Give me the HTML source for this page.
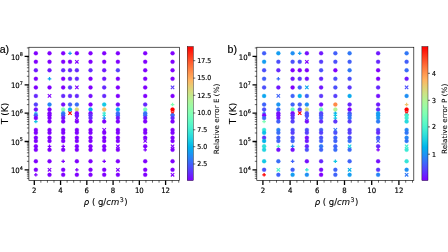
<!DOCTYPE html>
<html><head><meta charset="utf-8"><title>Relative error scatter plots</title>
<style>html,body{margin:0;padding:0;background:#fff}svg{display:block}text{stroke:#000;stroke-width:.18px}.l{stroke-width:.1px}.c{stroke-width:.04px}</style></head>
<body>
<svg width="448" height="252" viewBox="0 0 448 252" font-family="'DejaVu Sans', 'Liberation Sans', sans-serif" fill="#000">
<rect width="448" height="252" fill="#fff"/>
<g fill="none" stroke-width="1.25"><path d="M68.23 53.3H71.83M70.03 51.5V55.1" stroke="#149df1"/><path d="M75.16 60.1L78.56 63.5M75.16 63.5L78.56 60.1" stroke="#8000ff" stroke-width="1.15"/><path d="M47.72 78.8H51.32M49.52 77V80.6" stroke="#0da6ef"/><path d="M75.16 85.7L78.56 89.1M75.16 89.1L78.56 85.7" stroke="#8000ff" stroke-width="1.15"/><path d="M170.85 85.7L174.25 89.1M170.85 89.1L174.25 85.7" stroke="#5c38fd" stroke-width="1.15"/><path d="M47.82 94.2L51.22 97.6M47.82 97.6L51.22 94.2" stroke="#8000ff" stroke-width="1.15"/><path d="M170.75 104.55H174.35M172.55 102.75V106.35" stroke="#80ffb4"/><path d="M34.05 113.15H37.65M35.85 111.35V114.95" stroke="#21d5e1"/><path d="M68.33 111.45L71.73 114.85M68.33 114.85L71.73 111.45" stroke="#ff0000" stroke-width="1.15"/><path d="M102.4 113.15H106M104.2 111.35V114.95" stroke="#43eed2"/><path d="M170.85 111.45L174.25 114.85M170.85 114.85L174.25 111.45" stroke="#ff0000" stroke-width="1.15"/><path d="M102.4 115.3H106M104.2 113.5V117.1" stroke="#35e5d8"/><path d="M75.16 116.4L78.56 119.8M75.16 119.8L78.56 116.4" stroke="#8000ff" stroke-width="1.15"/><path d="M102.4 118.1H106M104.2 116.3V119.9" stroke="#1f8ff4"/><path d="M34.05 121.55H37.65M35.85 119.75V123.35" stroke="#13c8e6"/><path d="M102.5 128.2L105.9 131.6M102.5 131.6L105.9 128.2" stroke="#8000ff" stroke-width="1.15"/><path d="M143.51 139.3L146.91 142.7M143.51 142.7L146.91 139.3" stroke="#8000ff" stroke-width="1.15"/><path d="M47.72 146.3H51.32M49.52 144.5V148.1" stroke="#8000ff"/><path d="M61.39 146.3H64.99M63.19 144.5V148.1" stroke="#8000ff"/><path d="M116.17 144.6L119.57 148M116.17 148L119.57 144.6" stroke="#8000ff" stroke-width="1.15"/><path d="M170.85 144.6L174.25 148M170.85 148L174.25 144.6" stroke="#8000ff" stroke-width="1.15"/><path d="M143.41 149.8H147.01M145.21 148V151.6" stroke="#8000ff"/><path d="M61.39 161.3H64.99M63.19 159.5V163.1" stroke="#8000ff"/><path d="M102.4 161.3H106M104.2 159.5V163.1" stroke="#8000ff"/><path d="M47.82 168.1L51.22 171.5M47.82 171.5L51.22 168.1" stroke="#8000ff" stroke-width="1.15"/><path d="M75.06 169.8H78.66M76.86 168V171.6" stroke="#8000ff"/><path d="M116.17 168.1L119.57 171.5M116.17 171.5L119.57 168.1" stroke="#8000ff" stroke-width="1.15"/><path d="M34.05 174.8H37.65M35.85 173V176.6" stroke="#8000ff"/><path d="M170.85 173.1L174.25 176.5M170.85 176.5L174.25 173.1" stroke="#8000ff" stroke-width="1.15"/></g>
<g stroke-width="0.7" stroke-opacity="0.4"><circle cx="35.85" cy="53.3" r="2" fill="#8000ff" stroke="#8000ff"/><circle cx="49.52" cy="53.3" r="2" fill="#8000ff" stroke="#8000ff"/><circle cx="63.19" cy="53.3" r="2" fill="#8000ff" stroke="#8000ff"/><circle cx="76.86" cy="53.3" r="2" fill="#8000ff" stroke="#8000ff"/><circle cx="90.53" cy="53.3" r="2" fill="#8000ff" stroke="#8000ff"/><circle cx="104.2" cy="53.3" r="2" fill="#8000ff" stroke="#8000ff"/><circle cx="117.87" cy="53.3" r="2" fill="#8000ff" stroke="#8000ff"/><circle cx="145.21" cy="53.3" r="2" fill="#8000ff" stroke="#8000ff"/><circle cx="172.55" cy="53.3" r="2" fill="#8000ff" stroke="#8000ff"/><circle cx="35.85" cy="61.8" r="2" fill="#8000ff" stroke="#8000ff"/><circle cx="49.52" cy="61.8" r="2" fill="#8000ff" stroke="#8000ff"/><circle cx="63.19" cy="61.8" r="2" fill="#8000ff" stroke="#8000ff"/><circle cx="70.03" cy="61.8" r="2" fill="#8000ff" stroke="#8000ff"/><circle cx="90.53" cy="61.8" r="2" fill="#8000ff" stroke="#8000ff"/><circle cx="104.2" cy="61.8" r="2" fill="#8000ff" stroke="#8000ff"/><circle cx="117.87" cy="61.8" r="2" fill="#8000ff" stroke="#8000ff"/><circle cx="145.21" cy="61.8" r="2" fill="#8000ff" stroke="#8000ff"/><circle cx="172.55" cy="61.8" r="2" fill="#8000ff" stroke="#8000ff"/><circle cx="35.85" cy="70.3" r="2" fill="#7018ff" stroke="#7018ff"/><circle cx="49.52" cy="70.3" r="2" fill="#7018ff" stroke="#7018ff"/><circle cx="63.19" cy="70.3" r="2" fill="#6628fe" stroke="#6628fe"/><circle cx="70.03" cy="70.3" r="2" fill="#6628fe" stroke="#6628fe"/><circle cx="76.86" cy="70.3" r="2" fill="#6628fe" stroke="#6628fe"/><circle cx="90.53" cy="70.3" r="2" fill="#6628fe" stroke="#6628fe"/><circle cx="104.2" cy="70.3" r="2" fill="#7018ff" stroke="#7018ff"/><circle cx="117.87" cy="70.3" r="2" fill="#573ffd" stroke="#573ffd"/><circle cx="145.21" cy="70.3" r="2" fill="#8000ff" stroke="#8000ff"/><circle cx="172.55" cy="70.3" r="2" fill="#8000ff" stroke="#8000ff"/><circle cx="35.85" cy="78.8" r="2" fill="#8000ff" stroke="#8000ff"/><circle cx="63.19" cy="78.8" r="2" fill="#8000ff" stroke="#8000ff"/><circle cx="70.03" cy="78.8" r="2" fill="#6628fe" stroke="#6628fe"/><circle cx="76.86" cy="78.8" r="2" fill="#6628fe" stroke="#6628fe"/><circle cx="90.53" cy="78.8" r="2" fill="#8000ff" stroke="#8000ff"/><circle cx="104.2" cy="78.8" r="2" fill="#7018ff" stroke="#7018ff"/><circle cx="117.87" cy="78.8" r="2" fill="#8000ff" stroke="#8000ff"/><circle cx="145.21" cy="78.8" r="2" fill="#8000ff" stroke="#8000ff"/><circle cx="172.55" cy="78.8" r="2" fill="#8000ff" stroke="#8000ff"/><circle cx="35.85" cy="87.4" r="2" fill="#8000ff" stroke="#8000ff"/><circle cx="49.52" cy="87.4" r="2" fill="#8000ff" stroke="#8000ff"/><circle cx="63.19" cy="87.4" r="2" fill="#8000ff" stroke="#8000ff"/><circle cx="70.03" cy="87.4" r="2" fill="#5c38fd" stroke="#5c38fd"/><circle cx="90.53" cy="87.4" r="2" fill="#8000ff" stroke="#8000ff"/><circle cx="104.2" cy="87.4" r="2" fill="#6628fe" stroke="#6628fe"/><circle cx="117.87" cy="87.4" r="2" fill="#8000ff" stroke="#8000ff"/><circle cx="145.21" cy="87.4" r="2" fill="#8000ff" stroke="#8000ff"/><circle cx="35.85" cy="95.9" r="2" fill="#6628fe" stroke="#6628fe"/><circle cx="63.19" cy="95.9" r="2" fill="#6628fe" stroke="#6628fe"/><circle cx="70.03" cy="95.9" r="2" fill="#6628fe" stroke="#6628fe"/><circle cx="76.86" cy="95.9" r="2" fill="#6628fe" stroke="#6628fe"/><circle cx="90.53" cy="95.9" r="2" fill="#7510ff" stroke="#7510ff"/><circle cx="104.2" cy="95.9" r="2" fill="#6628fe" stroke="#6628fe"/><circle cx="117.87" cy="95.9" r="2" fill="#8000ff" stroke="#8000ff"/><circle cx="145.21" cy="95.9" r="2" fill="#8000ff" stroke="#8000ff"/><circle cx="172.55" cy="95.9" r="2" fill="#8000ff" stroke="#8000ff"/><circle cx="35.85" cy="104.55" r="2" fill="#573ffd" stroke="#573ffd"/><circle cx="49.52" cy="104.55" r="2" fill="#2686f5" stroke="#2686f5"/><circle cx="63.19" cy="104.55" r="2" fill="#7510ff" stroke="#7510ff"/><circle cx="70.03" cy="104.55" r="2" fill="#425efa" stroke="#425efa"/><circle cx="76.86" cy="104.55" r="2" fill="#386df9" stroke="#386df9"/><circle cx="90.53" cy="104.55" r="2" fill="#8000ff" stroke="#8000ff"/><circle cx="104.2" cy="104.55" r="2" fill="#13c8e6" stroke="#13c8e6"/><circle cx="117.87" cy="104.55" r="2" fill="#7510ff" stroke="#7510ff"/><circle cx="145.21" cy="104.55" r="2" fill="#6628fe" stroke="#6628fe"/><circle cx="35.85" cy="109.55" r="2" fill="#7510ff" stroke="#7510ff"/><circle cx="49.52" cy="109.55" r="2" fill="#8000ff" stroke="#8000ff"/><circle cx="63.19" cy="109.55" r="2" fill="#80ffb4" stroke="#80ffb4"/><circle cx="70.03" cy="109.55" r="2" fill="#02b2ec" stroke="#02b2ec"/><circle cx="76.86" cy="109.55" r="2" fill="#dbd77b" stroke="#dbd77b"/><circle cx="90.53" cy="109.55" r="2" fill="#02b2ec" stroke="#02b2ec"/><circle cx="104.2" cy="109.55" r="2" fill="#f5bf69" stroke="#f5bf69"/><circle cx="117.87" cy="109.55" r="2" fill="#02b2ec" stroke="#02b2ec"/><circle cx="145.21" cy="109.55" r="2" fill="#75feba" stroke="#75feba"/><circle cx="172.55" cy="109.55" r="2" fill="#ff0000" stroke="#ff0000"/><circle cx="49.52" cy="113.15" r="2" fill="#8000ff" stroke="#8000ff"/><circle cx="63.19" cy="113.15" r="2" fill="#2686f5" stroke="#2686f5"/><circle cx="76.86" cy="113.15" r="2" fill="#8000ff" stroke="#8000ff"/><circle cx="90.53" cy="113.15" r="2" fill="#8000ff" stroke="#8000ff"/><circle cx="117.87" cy="113.15" r="2" fill="#386df9" stroke="#386df9"/><circle cx="145.21" cy="113.15" r="2" fill="#3077f7" stroke="#3077f7"/><circle cx="35.85" cy="115.3" r="2" fill="#425efa" stroke="#425efa"/><circle cx="49.52" cy="115.3" r="2" fill="#8000ff" stroke="#8000ff"/><circle cx="63.19" cy="115.3" r="2" fill="#425efa" stroke="#425efa"/><circle cx="76.86" cy="115.3" r="2" fill="#7018ff" stroke="#7018ff"/><circle cx="90.53" cy="115.3" r="2" fill="#6130fe" stroke="#6130fe"/><circle cx="117.87" cy="115.3" r="2" fill="#3f63fa" stroke="#3f63fa"/><circle cx="145.21" cy="115.3" r="2" fill="#386df9" stroke="#386df9"/><circle cx="172.55" cy="115.3" r="2" fill="#386df9" stroke="#386df9"/><circle cx="35.85" cy="118.1" r="2" fill="#8000ff" stroke="#8000ff"/><circle cx="49.52" cy="118.1" r="2" fill="#8000ff" stroke="#8000ff"/><circle cx="63.19" cy="118.1" r="2" fill="#7018ff" stroke="#7018ff"/><circle cx="90.53" cy="118.1" r="2" fill="#6130fe" stroke="#6130fe"/><circle cx="117.87" cy="118.1" r="2" fill="#7018ff" stroke="#7018ff"/><circle cx="145.21" cy="118.1" r="2" fill="#7018ff" stroke="#7018ff"/><circle cx="172.55" cy="118.1" r="2" fill="#6628fe" stroke="#6628fe"/><circle cx="49.52" cy="121.55" r="2" fill="#8000ff" stroke="#8000ff"/><circle cx="63.19" cy="121.55" r="2" fill="#8000ff" stroke="#8000ff"/><circle cx="76.86" cy="121.55" r="2" fill="#8000ff" stroke="#8000ff"/><circle cx="90.53" cy="121.55" r="2" fill="#8000ff" stroke="#8000ff"/><circle cx="104.2" cy="121.55" r="2" fill="#8000ff" stroke="#8000ff"/><circle cx="117.87" cy="121.55" r="2" fill="#8000ff" stroke="#8000ff"/><circle cx="145.21" cy="121.55" r="2" fill="#8000ff" stroke="#8000ff"/><circle cx="172.55" cy="121.55" r="2" fill="#8000ff" stroke="#8000ff"/><circle cx="35.85" cy="129.9" r="2" fill="#8000ff" stroke="#8000ff"/><circle cx="49.52" cy="129.9" r="2" fill="#8000ff" stroke="#8000ff"/><circle cx="63.19" cy="129.9" r="2" fill="#8000ff" stroke="#8000ff"/><circle cx="76.86" cy="129.9" r="2" fill="#8000ff" stroke="#8000ff"/><circle cx="90.53" cy="129.9" r="2" fill="#8000ff" stroke="#8000ff"/><circle cx="117.87" cy="129.9" r="2" fill="#8000ff" stroke="#8000ff"/><circle cx="145.21" cy="129.9" r="2" fill="#8000ff" stroke="#8000ff"/><circle cx="172.55" cy="129.9" r="2" fill="#8000ff" stroke="#8000ff"/><circle cx="35.85" cy="132.8" r="2" fill="#8000ff" stroke="#8000ff"/><circle cx="49.52" cy="132.8" r="2" fill="#8000ff" stroke="#8000ff"/><circle cx="63.19" cy="132.8" r="2" fill="#8000ff" stroke="#8000ff"/><circle cx="76.86" cy="132.8" r="2" fill="#8000ff" stroke="#8000ff"/><circle cx="90.53" cy="132.8" r="2" fill="#8000ff" stroke="#8000ff"/><circle cx="104.2" cy="132.8" r="2" fill="#8000ff" stroke="#8000ff"/><circle cx="117.87" cy="132.8" r="2" fill="#8000ff" stroke="#8000ff"/><circle cx="145.21" cy="132.8" r="2" fill="#8000ff" stroke="#8000ff"/><circle cx="172.55" cy="132.8" r="2" fill="#8000ff" stroke="#8000ff"/><circle cx="35.85" cy="137.7" r="2" fill="#8000ff" stroke="#8000ff"/><circle cx="49.52" cy="137.7" r="2" fill="#8000ff" stroke="#8000ff"/><circle cx="63.19" cy="137.7" r="2" fill="#8000ff" stroke="#8000ff"/><circle cx="76.86" cy="137.7" r="2" fill="#8000ff" stroke="#8000ff"/><circle cx="90.53" cy="137.7" r="2" fill="#8000ff" stroke="#8000ff"/><circle cx="104.2" cy="137.7" r="2" fill="#8000ff" stroke="#8000ff"/><circle cx="117.87" cy="137.7" r="2" fill="#8000ff" stroke="#8000ff"/><circle cx="145.21" cy="137.7" r="2" fill="#8000ff" stroke="#8000ff"/><circle cx="172.55" cy="137.7" r="2" fill="#8000ff" stroke="#8000ff"/><circle cx="35.85" cy="141" r="2" fill="#8000ff" stroke="#8000ff"/><circle cx="49.52" cy="141" r="2" fill="#8000ff" stroke="#8000ff"/><circle cx="63.19" cy="141" r="2" fill="#8000ff" stroke="#8000ff"/><circle cx="76.86" cy="141" r="2" fill="#8000ff" stroke="#8000ff"/><circle cx="90.53" cy="141" r="2" fill="#8000ff" stroke="#8000ff"/><circle cx="104.2" cy="141" r="2" fill="#8000ff" stroke="#8000ff"/><circle cx="117.87" cy="141" r="2" fill="#8000ff" stroke="#8000ff"/><circle cx="172.55" cy="141" r="2" fill="#8000ff" stroke="#8000ff"/><circle cx="35.85" cy="146.3" r="2" fill="#8000ff" stroke="#8000ff"/><circle cx="76.86" cy="146.3" r="2" fill="#8000ff" stroke="#8000ff"/><circle cx="90.53" cy="146.3" r="2" fill="#8000ff" stroke="#8000ff"/><circle cx="104.2" cy="146.3" r="2" fill="#8000ff" stroke="#8000ff"/><circle cx="145.21" cy="146.3" r="2" fill="#8000ff" stroke="#8000ff"/><circle cx="35.85" cy="149.8" r="2" fill="#8000ff" stroke="#8000ff"/><circle cx="49.52" cy="149.8" r="2" fill="#8000ff" stroke="#8000ff"/><circle cx="63.19" cy="149.8" r="2" fill="#8000ff" stroke="#8000ff"/><circle cx="76.86" cy="149.8" r="2" fill="#8000ff" stroke="#8000ff"/><circle cx="90.53" cy="149.8" r="2" fill="#8000ff" stroke="#8000ff"/><circle cx="104.2" cy="149.8" r="2" fill="#8000ff" stroke="#8000ff"/><circle cx="117.87" cy="149.8" r="2" fill="#8000ff" stroke="#8000ff"/><circle cx="172.55" cy="149.8" r="2" fill="#8000ff" stroke="#8000ff"/><circle cx="35.85" cy="161.3" r="2" fill="#8000ff" stroke="#8000ff"/><circle cx="49.52" cy="161.3" r="2" fill="#8000ff" stroke="#8000ff"/><circle cx="76.86" cy="161.3" r="2" fill="#8000ff" stroke="#8000ff"/><circle cx="90.53" cy="161.3" r="2" fill="#8000ff" stroke="#8000ff"/><circle cx="117.87" cy="161.3" r="2" fill="#8000ff" stroke="#8000ff"/><circle cx="145.21" cy="161.3" r="2" fill="#8000ff" stroke="#8000ff"/><circle cx="172.55" cy="161.3" r="2" fill="#8000ff" stroke="#8000ff"/><circle cx="35.85" cy="169.8" r="2" fill="#8000ff" stroke="#8000ff"/><circle cx="63.19" cy="169.8" r="2" fill="#8000ff" stroke="#8000ff"/><circle cx="90.53" cy="169.8" r="2" fill="#8000ff" stroke="#8000ff"/><circle cx="104.2" cy="169.8" r="2" fill="#8000ff" stroke="#8000ff"/><circle cx="145.21" cy="169.8" r="2" fill="#8000ff" stroke="#8000ff"/><circle cx="172.55" cy="169.8" r="2" fill="#8000ff" stroke="#8000ff"/><circle cx="49.52" cy="174.8" r="2" fill="#8000ff" stroke="#8000ff"/><circle cx="63.19" cy="174.8" r="2" fill="#8000ff" stroke="#8000ff"/><circle cx="76.86" cy="174.8" r="2" fill="#8000ff" stroke="#8000ff"/><circle cx="90.53" cy="174.8" r="2" fill="#8000ff" stroke="#8000ff"/><circle cx="104.2" cy="174.8" r="2" fill="#8000ff" stroke="#8000ff"/><circle cx="117.87" cy="174.8" r="2" fill="#8000ff" stroke="#8000ff"/><circle cx="145.21" cy="174.8" r="2" fill="#8000ff" stroke="#8000ff"/></g>

<rect x="28.9" y="47.25" width="150.7" height="133.15" fill="none" stroke="#000" stroke-width="0.65"/>
<path d="M34.3 180.4v4.6M60.56 180.4v4.6M86.82 180.4v4.6M113.08 180.4v4.6M139.34 180.4v4.6M165.6 180.4v4.6" stroke="#000" stroke-width="1.3" fill="none"/>
<path d="M40.86 180.4v2.3M47.43 180.4v2.3M53.99 180.4v2.3M67.12 180.4v2.3M73.69 180.4v2.3M80.25 180.4v2.3M93.38 180.4v2.3M99.95 180.4v2.3M106.52 180.4v2.3M119.64 180.4v2.3M126.21 180.4v2.3M132.78 180.4v2.3M145.91 180.4v2.3M152.47 180.4v2.3M159.04 180.4v2.3M172.17 180.4v2.3M178.73 180.4v2.3" stroke="#000" stroke-width="0.6" fill="none"/>
<text transform="translate(34.3 192.8) scale(0.94 1)" text-anchor="middle" font-size="7.4">2</text>
<text transform="translate(60.56 192.8) scale(0.94 1)" text-anchor="middle" font-size="7.4">4</text>
<text transform="translate(86.82 192.8) scale(0.94 1)" text-anchor="middle" font-size="7.4">6</text>
<text transform="translate(113.08 192.8) scale(0.94 1)" text-anchor="middle" font-size="7.4">8</text>
<text transform="translate(139.34 192.8) scale(0.94 1)" text-anchor="middle" font-size="7.4">10</text>
<text transform="translate(165.6 192.8) scale(0.94 1)" text-anchor="middle" font-size="7.4">12</text>
<text transform="translate(22.9 172.95) scale(0.94 1)" text-anchor="end" font-size="7.4">10<tspan dy="-3.2" font-size="5.18">4</tspan></text>
<text transform="translate(22.9 144.6) scale(0.94 1)" text-anchor="end" font-size="7.4">10<tspan dy="-3.2" font-size="5.18">5</tspan></text>
<text transform="translate(22.9 116.25) scale(0.94 1)" text-anchor="end" font-size="7.4">10<tspan dy="-3.2" font-size="5.18">6</tspan></text>
<text transform="translate(22.9 87.9) scale(0.94 1)" text-anchor="end" font-size="7.4">10<tspan dy="-3.2" font-size="5.18">7</tspan></text>
<text transform="translate(22.9 59.55) scale(0.94 1)" text-anchor="end" font-size="7.4">10<tspan dy="-3.2" font-size="5.18">8</tspan></text>
<path d="M28.9 169.85h-4.3M28.9 141.5h-4.3M28.9 113.15h-4.3M28.9 84.8h-4.3M28.9 56.45h-4.3" stroke="#000" stroke-width="1.3" fill="none"/>
<path d="M28.9 178.38h-2M28.9 176.14h-2M28.9 174.24h-2M28.9 172.6h-2M28.9 171.15h-2M28.9 161.32h-2M28.9 156.32h-2M28.9 152.78h-2M28.9 150.03h-2M28.9 147.79h-2M28.9 145.89h-2M28.9 144.25h-2M28.9 142.8h-2M28.9 132.97h-2M28.9 127.97h-2M28.9 124.43h-2M28.9 121.68h-2M28.9 119.44h-2M28.9 117.54h-2M28.9 115.9h-2M28.9 114.45h-2M28.9 104.62h-2M28.9 99.62h-2M28.9 96.08h-2M28.9 93.33h-2M28.9 91.09h-2M28.9 89.19h-2M28.9 87.55h-2M28.9 86.1h-2M28.9 76.27h-2M28.9 71.27h-2M28.9 67.73h-2M28.9 64.98h-2M28.9 62.74h-2M28.9 60.84h-2M28.9 59.2h-2M28.9 57.75h-2M28.9 47.92h-2" stroke="#000" stroke-width="0.6" fill="none"/>
<text class="l" x="105.7" y="204.6" text-anchor="middle" font-size="8.5"><tspan font-style="italic">ρ</tspan> ( g/<tspan font-style="italic">cm</tspan><tspan dy="-2.7" dx="0.5" font-size="6.29">3</tspan><tspan dy="2.7" dx="0.5">)</tspan></text>
<text class="l" transform="translate(7.6 113.5) rotate(-90)" text-anchor="middle" font-size="9.1">T (K)</text>

<defs><linearGradient id="ga" x1="0" y1="0" x2="0" y2="1"><stop offset="0" stop-color="#ff0000"/><stop offset="0.05" stop-color="#ff2814"/><stop offset="0.1" stop-color="#ff4f28"/><stop offset="0.15" stop-color="#ff743c"/><stop offset="0.2" stop-color="#ff964f"/><stop offset="0.25" stop-color="#ffb462"/><stop offset="0.3" stop-color="#e5ce74"/><stop offset="0.35" stop-color="#cce385"/><stop offset="0.4" stop-color="#b2f396"/><stop offset="0.45" stop-color="#99fca6"/><stop offset="0.5" stop-color="#80ffb4"/><stop offset="0.55" stop-color="#66fcc2"/><stop offset="0.6" stop-color="#4df3ce"/><stop offset="0.65" stop-color="#33e3d9"/><stop offset="0.7" stop-color="#1acee3"/><stop offset="0.75" stop-color="#00b4ec"/><stop offset="0.8" stop-color="#1a96f3"/><stop offset="0.85" stop-color="#3374f8"/><stop offset="0.9" stop-color="#4d4ffc"/><stop offset="0.95" stop-color="#6628fe"/><stop offset="1" stop-color="#8000ff"/></linearGradient></defs>
<rect x="187.2" y="46.55" width="6.1" height="134.05" fill="url(#ga)" stroke="#000" stroke-width="0.4"/>
<text transform="translate(197.3 63.05) scale(0.9 1)" font-size="6.9">17.5</text>
<text transform="translate(197.3 80.45) scale(0.9 1)" font-size="6.9">15.0</text>
<text transform="translate(197.3 97.65) scale(0.9 1)" font-size="6.9">12.5</text>
<text transform="translate(197.3 115.35) scale(0.9 1)" font-size="6.9">10.0</text>
<text transform="translate(197.3 132.15) scale(0.9 1)" font-size="6.9">7.5</text>
<text transform="translate(197.3 149.05) scale(0.9 1)" font-size="6.9">5.0</text>
<text transform="translate(197.3 166.35) scale(0.9 1)" font-size="6.9">2.5</text>
<path d="M193.3 60.7h2M193.3 78.1h2M193.3 95.3h2M193.3 113h2M193.3 129.8h2M193.3 146.7h2M193.3 164h2" stroke="#000" stroke-width="0.6" fill="none"/>
<text class="c" transform="translate(218.8 118.9) rotate(-90)" text-anchor="middle" font-size="7.22">Relative error E (%)</text>

<g fill="none" stroke-width="1.25"><path d="M297.93 53.3H301.53M299.73 51.5V55.1" stroke="#149df1"/><path d="M305.15 60.1L308.55 63.5M305.15 63.5L308.55 60.1" stroke="#8000ff" stroke-width="1.15"/><path d="M276.55 78.8H280.15M278.35 77V80.6" stroke="#386df9"/><path d="M305.15 85.7L308.55 89.1M305.15 89.1L308.55 85.7" stroke="#0da6ef" stroke-width="1.15"/><path d="M404.9 85.7L408.3 89.1M404.9 89.1L408.3 85.7" stroke="#4c4ffc" stroke-width="1.15"/><path d="M276.65 94.2L280.05 97.6M276.65 97.6L280.05 94.2" stroke="#3f63fa" stroke-width="1.15"/><path d="M404.8 104.55H408.4M406.6 102.75V106.35" stroke="#f0c46d"/><path d="M262.3 113.15H265.9M264.1 111.35V114.95" stroke="#2686f5"/><path d="M298.03 111.45L301.43 114.85M298.03 114.85L301.43 111.45" stroke="#ff0000" stroke-width="1.15"/><path d="M333.55 113.15H337.15M335.35 111.35V114.95" stroke="#02b2ec"/><path d="M404.9 111.45L408.3 114.85M404.9 114.85L408.3 111.45" stroke="#ff0000" stroke-width="1.15"/><path d="M333.55 115.3H337.15M335.35 113.5V117.1" stroke="#13c8e6"/><path d="M305.15 116.4L308.55 119.8M305.15 119.8L308.55 116.4" stroke="#4c4ffc" stroke-width="1.15"/><path d="M333.55 118.1H337.15M335.35 116.3V119.9" stroke="#13c8e6"/><path d="M262.3 121.55H265.9M264.1 119.75V123.35" stroke="#80ffb4"/><path d="M333.65 128.2L337.05 131.6M333.65 131.6L337.05 128.2" stroke="#3077f7" stroke-width="1.15"/><path d="M376.4 139.3L379.8 142.7M376.4 142.7L379.8 139.3" stroke="#425efa" stroke-width="1.15"/><path d="M276.55 146.3H280.15M278.35 144.5V148.1" stroke="#66fcc2"/><path d="M290.8 146.3H294.4M292.6 144.5V148.1" stroke="#1f8ff4"/><path d="M347.9 144.6L351.3 148M347.9 148L351.3 144.6" stroke="#21d5e1" stroke-width="1.15"/><path d="M404.9 144.6L408.3 148M404.9 148L408.3 144.6" stroke="#43eed2" stroke-width="1.15"/><path d="M376.3 149.8H379.9M378.1 148V151.6" stroke="#8000ff"/><path d="M290.8 161.3H294.4M292.6 159.5V163.1" stroke="#3f63fa"/><path d="M333.55 161.3H337.15M335.35 159.5V163.1" stroke="#13c8e6"/><path d="M276.65 168.1L280.05 171.5M276.65 171.5L280.05 168.1" stroke="#51f5cc" stroke-width="1.15"/><path d="M305.05 169.8H308.65M306.85 168V171.6" stroke="#35e5d8"/><path d="M347.9 168.1L351.3 171.5M347.9 171.5L351.3 168.1" stroke="#02b2ec" stroke-width="1.15"/><path d="M262.3 174.8H265.9M264.1 173V176.6" stroke="#ff0000"/><path d="M404.9 173.1L408.3 176.5M404.9 176.5L408.3 173.1" stroke="#3077f7" stroke-width="1.15"/></g>
<g stroke-width="0.7" stroke-opacity="0.4"><circle cx="264.1" cy="53.3" r="2" fill="#425efa" stroke="#425efa"/><circle cx="278.35" cy="53.3" r="2" fill="#149df1" stroke="#149df1"/><circle cx="292.6" cy="53.3" r="2" fill="#1f8ff4" stroke="#1f8ff4"/><circle cx="306.85" cy="53.3" r="2" fill="#7510ff" stroke="#7510ff"/><circle cx="321.1" cy="53.3" r="2" fill="#7018ff" stroke="#7018ff"/><circle cx="335.35" cy="53.3" r="2" fill="#425efa" stroke="#425efa"/><circle cx="349.6" cy="53.3" r="2" fill="#3077f7" stroke="#3077f7"/><circle cx="378.1" cy="53.3" r="2" fill="#7018ff" stroke="#7018ff"/><circle cx="406.6" cy="53.3" r="2" fill="#3077f7" stroke="#3077f7"/><circle cx="264.1" cy="61.8" r="2" fill="#149df1" stroke="#149df1"/><circle cx="278.35" cy="61.8" r="2" fill="#4c4ffc" stroke="#4c4ffc"/><circle cx="292.6" cy="61.8" r="2" fill="#4c4ffc" stroke="#4c4ffc"/><circle cx="299.73" cy="61.8" r="2" fill="#4c4ffc" stroke="#4c4ffc"/><circle cx="321.1" cy="61.8" r="2" fill="#573ffd" stroke="#573ffd"/><circle cx="335.35" cy="61.8" r="2" fill="#4c4ffc" stroke="#4c4ffc"/><circle cx="349.6" cy="61.8" r="2" fill="#425efa" stroke="#425efa"/><circle cx="378.1" cy="61.8" r="2" fill="#6628fe" stroke="#6628fe"/><circle cx="406.6" cy="61.8" r="2" fill="#425efa" stroke="#425efa"/><circle cx="264.1" cy="70.3" r="2" fill="#4c4ffc" stroke="#4c4ffc"/><circle cx="278.35" cy="70.3" r="2" fill="#6628fe" stroke="#6628fe"/><circle cx="292.6" cy="70.3" r="2" fill="#8000ff" stroke="#8000ff"/><circle cx="299.73" cy="70.3" r="2" fill="#8000ff" stroke="#8000ff"/><circle cx="306.85" cy="70.3" r="2" fill="#8000ff" stroke="#8000ff"/><circle cx="321.1" cy="70.3" r="2" fill="#4c4ffc" stroke="#4c4ffc"/><circle cx="335.35" cy="70.3" r="2" fill="#8000ff" stroke="#8000ff"/><circle cx="349.6" cy="70.3" r="2" fill="#3077f7" stroke="#3077f7"/><circle cx="378.1" cy="70.3" r="2" fill="#8000ff" stroke="#8000ff"/><circle cx="406.6" cy="70.3" r="2" fill="#386df9" stroke="#386df9"/><circle cx="264.1" cy="78.8" r="2" fill="#425efa" stroke="#425efa"/><circle cx="292.6" cy="78.8" r="2" fill="#7018ff" stroke="#7018ff"/><circle cx="299.73" cy="78.8" r="2" fill="#5c38fd" stroke="#5c38fd"/><circle cx="306.85" cy="78.8" r="2" fill="#7510ff" stroke="#7510ff"/><circle cx="321.1" cy="78.8" r="2" fill="#6628fe" stroke="#6628fe"/><circle cx="335.35" cy="78.8" r="2" fill="#4c4ffc" stroke="#4c4ffc"/><circle cx="349.6" cy="78.8" r="2" fill="#4c4ffc" stroke="#4c4ffc"/><circle cx="378.1" cy="78.8" r="2" fill="#8000ff" stroke="#8000ff"/><circle cx="406.6" cy="78.8" r="2" fill="#7018ff" stroke="#7018ff"/><circle cx="264.1" cy="87.4" r="2" fill="#4c4ffc" stroke="#4c4ffc"/><circle cx="278.35" cy="87.4" r="2" fill="#7018ff" stroke="#7018ff"/><circle cx="292.6" cy="87.4" r="2" fill="#8000ff" stroke="#8000ff"/><circle cx="299.73" cy="87.4" r="2" fill="#3f63fa" stroke="#3f63fa"/><circle cx="321.1" cy="87.4" r="2" fill="#7018ff" stroke="#7018ff"/><circle cx="335.35" cy="87.4" r="2" fill="#4c4ffc" stroke="#4c4ffc"/><circle cx="349.6" cy="87.4" r="2" fill="#5c38fd" stroke="#5c38fd"/><circle cx="378.1" cy="87.4" r="2" fill="#6628fe" stroke="#6628fe"/><circle cx="264.1" cy="95.9" r="2" fill="#0da6ef" stroke="#0da6ef"/><circle cx="292.6" cy="95.9" r="2" fill="#3f63fa" stroke="#3f63fa"/><circle cx="299.73" cy="95.9" r="2" fill="#02b2ec" stroke="#02b2ec"/><circle cx="306.85" cy="95.9" r="2" fill="#425efa" stroke="#425efa"/><circle cx="321.1" cy="95.9" r="2" fill="#5c38fd" stroke="#5c38fd"/><circle cx="335.35" cy="95.9" r="2" fill="#573ffd" stroke="#573ffd"/><circle cx="349.6" cy="95.9" r="2" fill="#09aaee" stroke="#09aaee"/><circle cx="378.1" cy="95.9" r="2" fill="#7510ff" stroke="#7510ff"/><circle cx="406.6" cy="95.9" r="2" fill="#1f8ff4" stroke="#1f8ff4"/><circle cx="264.1" cy="104.55" r="2" fill="#3f63fa" stroke="#3f63fa"/><circle cx="278.35" cy="104.55" r="2" fill="#1b94f3" stroke="#1b94f3"/><circle cx="292.6" cy="104.55" r="2" fill="#3f63fa" stroke="#3f63fa"/><circle cx="299.73" cy="104.55" r="2" fill="#425efa" stroke="#425efa"/><circle cx="306.85" cy="104.55" r="2" fill="#1f8ff4" stroke="#1f8ff4"/><circle cx="321.1" cy="104.55" r="2" fill="#7510ff" stroke="#7510ff"/><circle cx="335.35" cy="104.55" r="2" fill="#ff8947" stroke="#ff8947"/><circle cx="349.6" cy="104.55" r="2" fill="#6628fe" stroke="#6628fe"/><circle cx="378.1" cy="104.55" r="2" fill="#7018ff" stroke="#7018ff"/><circle cx="264.1" cy="109.55" r="2" fill="#4c4ffc" stroke="#4c4ffc"/><circle cx="278.35" cy="109.55" r="2" fill="#386df9" stroke="#386df9"/><circle cx="292.6" cy="109.55" r="2" fill="#66fcc2" stroke="#66fcc2"/><circle cx="299.73" cy="109.55" r="2" fill="#5c38fd" stroke="#5c38fd"/><circle cx="306.85" cy="109.55" r="2" fill="#d6db7e" stroke="#d6db7e"/><circle cx="321.1" cy="109.55" r="2" fill="#70febd" stroke="#70febd"/><circle cx="335.35" cy="109.55" r="2" fill="#b2f396" stroke="#b2f396"/><circle cx="349.6" cy="109.55" r="2" fill="#8000ff" stroke="#8000ff"/><circle cx="378.1" cy="109.55" r="2" fill="#6628fe" stroke="#6628fe"/><circle cx="406.6" cy="109.55" r="2" fill="#ff0000" stroke="#ff0000"/><circle cx="278.35" cy="113.15" r="2" fill="#7510ff" stroke="#7510ff"/><circle cx="292.6" cy="113.15" r="2" fill="#8000ff" stroke="#8000ff"/><circle cx="306.85" cy="113.15" r="2" fill="#4c4ffc" stroke="#4c4ffc"/><circle cx="321.1" cy="113.15" r="2" fill="#573ffd" stroke="#573ffd"/><circle cx="349.6" cy="113.15" r="2" fill="#4c4ffc" stroke="#4c4ffc"/><circle cx="378.1" cy="113.15" r="2" fill="#149df1" stroke="#149df1"/><circle cx="264.1" cy="115.3" r="2" fill="#8000ff" stroke="#8000ff"/><circle cx="278.35" cy="115.3" r="2" fill="#7510ff" stroke="#7510ff"/><circle cx="292.6" cy="115.3" r="2" fill="#6628fe" stroke="#6628fe"/><circle cx="306.85" cy="115.3" r="2" fill="#4c4ffc" stroke="#4c4ffc"/><circle cx="321.1" cy="115.3" r="2" fill="#4c4ffc" stroke="#4c4ffc"/><circle cx="349.6" cy="115.3" r="2" fill="#386df9" stroke="#386df9"/><circle cx="378.1" cy="115.3" r="2" fill="#149df1" stroke="#149df1"/><circle cx="406.6" cy="115.3" r="2" fill="#43eed2" stroke="#43eed2"/><circle cx="264.1" cy="118.1" r="2" fill="#386df9" stroke="#386df9"/><circle cx="278.35" cy="118.1" r="2" fill="#7510ff" stroke="#7510ff"/><circle cx="292.6" cy="118.1" r="2" fill="#5c38fd" stroke="#5c38fd"/><circle cx="321.1" cy="118.1" r="2" fill="#3f63fa" stroke="#3f63fa"/><circle cx="349.6" cy="118.1" r="2" fill="#3077f7" stroke="#3077f7"/><circle cx="378.1" cy="118.1" r="2" fill="#149df1" stroke="#149df1"/><circle cx="406.6" cy="118.1" r="2" fill="#43eed2" stroke="#43eed2"/><circle cx="278.35" cy="121.55" r="2" fill="#425efa" stroke="#425efa"/><circle cx="292.6" cy="121.55" r="2" fill="#573ffd" stroke="#573ffd"/><circle cx="306.85" cy="121.55" r="2" fill="#7510ff" stroke="#7510ff"/><circle cx="321.1" cy="121.55" r="2" fill="#6130fe" stroke="#6130fe"/><circle cx="335.35" cy="121.55" r="2" fill="#5c38fd" stroke="#5c38fd"/><circle cx="349.6" cy="121.55" r="2" fill="#573ffd" stroke="#573ffd"/><circle cx="378.1" cy="121.55" r="2" fill="#2d7cf7" stroke="#2d7cf7"/><circle cx="406.6" cy="121.55" r="2" fill="#28dbde" stroke="#28dbde"/><circle cx="264.1" cy="129.9" r="2" fill="#35e5d8" stroke="#35e5d8"/><circle cx="278.35" cy="129.9" r="2" fill="#2686f5" stroke="#2686f5"/><circle cx="292.6" cy="129.9" r="2" fill="#4c4ffc" stroke="#4c4ffc"/><circle cx="306.85" cy="129.9" r="2" fill="#4c4ffc" stroke="#4c4ffc"/><circle cx="321.1" cy="129.9" r="2" fill="#425efa" stroke="#425efa"/><circle cx="349.6" cy="129.9" r="2" fill="#573ffd" stroke="#573ffd"/><circle cx="378.1" cy="129.9" r="2" fill="#573ffd" stroke="#573ffd"/><circle cx="406.6" cy="129.9" r="2" fill="#2686f5" stroke="#2686f5"/><circle cx="264.1" cy="132.8" r="2" fill="#0cc1e8" stroke="#0cc1e8"/><circle cx="278.35" cy="132.8" r="2" fill="#386df9" stroke="#386df9"/><circle cx="292.6" cy="132.8" r="2" fill="#573ffd" stroke="#573ffd"/><circle cx="306.85" cy="132.8" r="2" fill="#573ffd" stroke="#573ffd"/><circle cx="321.1" cy="132.8" r="2" fill="#573ffd" stroke="#573ffd"/><circle cx="335.35" cy="132.8" r="2" fill="#4c4ffc" stroke="#4c4ffc"/><circle cx="349.6" cy="132.8" r="2" fill="#573ffd" stroke="#573ffd"/><circle cx="378.1" cy="132.8" r="2" fill="#6628fe" stroke="#6628fe"/><circle cx="406.6" cy="132.8" r="2" fill="#3077f7" stroke="#3077f7"/><circle cx="264.1" cy="137.7" r="2" fill="#5c38fd" stroke="#5c38fd"/><circle cx="278.35" cy="137.7" r="2" fill="#425efa" stroke="#425efa"/><circle cx="292.6" cy="137.7" r="2" fill="#4c4ffc" stroke="#4c4ffc"/><circle cx="306.85" cy="137.7" r="2" fill="#7510ff" stroke="#7510ff"/><circle cx="321.1" cy="137.7" r="2" fill="#4c4ffc" stroke="#4c4ffc"/><circle cx="335.35" cy="137.7" r="2" fill="#3f63fa" stroke="#3f63fa"/><circle cx="349.6" cy="137.7" r="2" fill="#4c4ffc" stroke="#4c4ffc"/><circle cx="378.1" cy="137.7" r="2" fill="#425efa" stroke="#425efa"/><circle cx="406.6" cy="137.7" r="2" fill="#2686f5" stroke="#2686f5"/><circle cx="264.1" cy="141" r="2" fill="#02b2ec" stroke="#02b2ec"/><circle cx="278.35" cy="141" r="2" fill="#3f63fa" stroke="#3f63fa"/><circle cx="292.6" cy="141" r="2" fill="#425efa" stroke="#425efa"/><circle cx="306.85" cy="141" r="2" fill="#7018ff" stroke="#7018ff"/><circle cx="321.1" cy="141" r="2" fill="#425efa" stroke="#425efa"/><circle cx="335.35" cy="141" r="2" fill="#3f63fa" stroke="#3f63fa"/><circle cx="349.6" cy="141" r="2" fill="#386df9" stroke="#386df9"/><circle cx="406.6" cy="141" r="2" fill="#3077f7" stroke="#3077f7"/><circle cx="264.1" cy="146.3" r="2" fill="#2fe0db" stroke="#2fe0db"/><circle cx="306.85" cy="146.3" r="2" fill="#6628fe" stroke="#6628fe"/><circle cx="321.1" cy="146.3" r="2" fill="#3077f7" stroke="#3077f7"/><circle cx="335.35" cy="146.3" r="2" fill="#3f63fa" stroke="#3f63fa"/><circle cx="378.1" cy="146.3" r="2" fill="#6628fe" stroke="#6628fe"/><circle cx="264.1" cy="149.8" r="2" fill="#21d5e1" stroke="#21d5e1"/><circle cx="278.35" cy="149.8" r="2" fill="#7510ff" stroke="#7510ff"/><circle cx="292.6" cy="149.8" r="2" fill="#7510ff" stroke="#7510ff"/><circle cx="306.85" cy="149.8" r="2" fill="#4c4ffc" stroke="#4c4ffc"/><circle cx="321.1" cy="149.8" r="2" fill="#3f63fa" stroke="#3f63fa"/><circle cx="335.35" cy="149.8" r="2" fill="#386df9" stroke="#386df9"/><circle cx="349.6" cy="149.8" r="2" fill="#386df9" stroke="#386df9"/><circle cx="406.6" cy="149.8" r="2" fill="#3cead5" stroke="#3cead5"/><circle cx="264.1" cy="161.3" r="2" fill="#13c8e6" stroke="#13c8e6"/><circle cx="278.35" cy="161.3" r="2" fill="#386df9" stroke="#386df9"/><circle cx="306.85" cy="161.3" r="2" fill="#7510ff" stroke="#7510ff"/><circle cx="321.1" cy="161.3" r="2" fill="#6628fe" stroke="#6628fe"/><circle cx="349.6" cy="161.3" r="2" fill="#3f63fa" stroke="#3f63fa"/><circle cx="378.1" cy="161.3" r="2" fill="#7510ff" stroke="#7510ff"/><circle cx="406.6" cy="161.3" r="2" fill="#35e5d8" stroke="#35e5d8"/><circle cx="264.1" cy="169.8" r="2" fill="#4c4ffc" stroke="#4c4ffc"/><circle cx="292.6" cy="169.8" r="2" fill="#425efa" stroke="#425efa"/><circle cx="321.1" cy="169.8" r="2" fill="#7510ff" stroke="#7510ff"/><circle cx="335.35" cy="169.8" r="2" fill="#3f63fa" stroke="#3f63fa"/><circle cx="378.1" cy="169.8" r="2" fill="#5c38fd" stroke="#5c38fd"/><circle cx="406.6" cy="169.8" r="2" fill="#1f8ff4" stroke="#1f8ff4"/><circle cx="278.35" cy="174.8" r="2" fill="#3f63fa" stroke="#3f63fa"/><circle cx="292.6" cy="174.8" r="2" fill="#149df1" stroke="#149df1"/><circle cx="306.85" cy="174.8" r="2" fill="#1f8ff4" stroke="#1f8ff4"/><circle cx="321.1" cy="174.8" r="2" fill="#8000ff" stroke="#8000ff"/><circle cx="335.35" cy="174.8" r="2" fill="#3f63fa" stroke="#3f63fa"/><circle cx="349.6" cy="174.8" r="2" fill="#149df1" stroke="#149df1"/><circle cx="378.1" cy="174.8" r="2" fill="#2686f5" stroke="#2686f5"/></g>

<rect x="256.8" y="47.25" width="157" height="133.15" fill="none" stroke="#000" stroke-width="0.65"/>
<path d="M262.9 180.4v4.6M290.1 180.4v4.6M317.3 180.4v4.6M344.5 180.4v4.6M371.7 180.4v4.6M398.9 180.4v4.6" stroke="#000" stroke-width="1.3" fill="none"/>
<path d="M269.7 180.4v2.3M276.5 180.4v2.3M283.3 180.4v2.3M296.9 180.4v2.3M303.7 180.4v2.3M310.5 180.4v2.3M324.1 180.4v2.3M330.9 180.4v2.3M337.7 180.4v2.3M351.3 180.4v2.3M358.1 180.4v2.3M364.9 180.4v2.3M378.5 180.4v2.3M385.3 180.4v2.3M392.1 180.4v2.3M405.7 180.4v2.3M412.5 180.4v2.3" stroke="#000" stroke-width="0.6" fill="none"/>
<text transform="translate(262.9 192.8) scale(0.94 1)" text-anchor="middle" font-size="7.4">2</text>
<text transform="translate(290.1 192.8) scale(0.94 1)" text-anchor="middle" font-size="7.4">4</text>
<text transform="translate(317.3 192.8) scale(0.94 1)" text-anchor="middle" font-size="7.4">6</text>
<text transform="translate(344.5 192.8) scale(0.94 1)" text-anchor="middle" font-size="7.4">8</text>
<text transform="translate(371.7 192.8) scale(0.94 1)" text-anchor="middle" font-size="7.4">10</text>
<text transform="translate(398.9 192.8) scale(0.94 1)" text-anchor="middle" font-size="7.4">12</text>
<text transform="translate(250.8 172.95) scale(0.94 1)" text-anchor="end" font-size="7.4">10<tspan dy="-3.2" font-size="5.18">4</tspan></text>
<text transform="translate(250.8 144.6) scale(0.94 1)" text-anchor="end" font-size="7.4">10<tspan dy="-3.2" font-size="5.18">5</tspan></text>
<text transform="translate(250.8 116.25) scale(0.94 1)" text-anchor="end" font-size="7.4">10<tspan dy="-3.2" font-size="5.18">6</tspan></text>
<text transform="translate(250.8 87.9) scale(0.94 1)" text-anchor="end" font-size="7.4">10<tspan dy="-3.2" font-size="5.18">7</tspan></text>
<text transform="translate(250.8 59.55) scale(0.94 1)" text-anchor="end" font-size="7.4">10<tspan dy="-3.2" font-size="5.18">8</tspan></text>
<path d="M256.8 169.85h-4.3M256.8 141.5h-4.3M256.8 113.15h-4.3M256.8 84.8h-4.3M256.8 56.45h-4.3" stroke="#000" stroke-width="1.3" fill="none"/>
<path d="M256.8 178.38h-2M256.8 176.14h-2M256.8 174.24h-2M256.8 172.6h-2M256.8 171.15h-2M256.8 161.32h-2M256.8 156.32h-2M256.8 152.78h-2M256.8 150.03h-2M256.8 147.79h-2M256.8 145.89h-2M256.8 144.25h-2M256.8 142.8h-2M256.8 132.97h-2M256.8 127.97h-2M256.8 124.43h-2M256.8 121.68h-2M256.8 119.44h-2M256.8 117.54h-2M256.8 115.9h-2M256.8 114.45h-2M256.8 104.62h-2M256.8 99.62h-2M256.8 96.08h-2M256.8 93.33h-2M256.8 91.09h-2M256.8 89.19h-2M256.8 87.55h-2M256.8 86.1h-2M256.8 76.27h-2M256.8 71.27h-2M256.8 67.73h-2M256.8 64.98h-2M256.8 62.74h-2M256.8 60.84h-2M256.8 59.2h-2M256.8 57.75h-2M256.8 47.92h-2" stroke="#000" stroke-width="0.6" fill="none"/>
<text class="l" x="336.5" y="204.6" text-anchor="middle" font-size="8.5"><tspan font-style="italic">ρ</tspan> ( g/<tspan font-style="italic">cm</tspan><tspan dy="-2.7" dx="0.5" font-size="6.29">3</tspan><tspan dy="2.7" dx="0.5">)</tspan></text>
<text class="l" transform="translate(235.5 113.5) rotate(-90)" text-anchor="middle" font-size="9.1">T (K)</text>

<defs><linearGradient id="gb" x1="0" y1="0" x2="0" y2="1"><stop offset="0" stop-color="#ff0000"/><stop offset="0.05" stop-color="#ff2814"/><stop offset="0.1" stop-color="#ff4f28"/><stop offset="0.15" stop-color="#ff743c"/><stop offset="0.2" stop-color="#ff964f"/><stop offset="0.25" stop-color="#ffb462"/><stop offset="0.3" stop-color="#e5ce74"/><stop offset="0.35" stop-color="#cce385"/><stop offset="0.4" stop-color="#b2f396"/><stop offset="0.45" stop-color="#99fca6"/><stop offset="0.5" stop-color="#80ffb4"/><stop offset="0.55" stop-color="#66fcc2"/><stop offset="0.6" stop-color="#4df3ce"/><stop offset="0.65" stop-color="#33e3d9"/><stop offset="0.7" stop-color="#1acee3"/><stop offset="0.75" stop-color="#00b4ec"/><stop offset="0.8" stop-color="#1a96f3"/><stop offset="0.85" stop-color="#3374f8"/><stop offset="0.9" stop-color="#4d4ffc"/><stop offset="0.95" stop-color="#6628fe"/><stop offset="1" stop-color="#8000ff"/></linearGradient></defs>
<rect x="421.9" y="46.55" width="6.1" height="134.05" fill="url(#gb)" stroke="#000" stroke-width="0.4"/>
<text transform="translate(432 75.65) scale(0.9 1)" font-size="6.9">4</text>
<text transform="translate(432 102.65) scale(0.9 1)" font-size="6.9">3</text>
<text transform="translate(432 129.25) scale(0.9 1)" font-size="6.9">2</text>
<text transform="translate(432 156.55) scale(0.9 1)" font-size="6.9">1</text>
<path d="M428 73.3h2M428 100.3h2M428 126.9h2M428 154.2h2" stroke="#000" stroke-width="0.6" fill="none"/>
<text class="c" transform="translate(446.5 118.9) rotate(-90)" text-anchor="middle" font-size="7.22">Relative error P (%)</text>

<text x="-0.3" y="52.7" font-family="'Liberation Sans', sans-serif" font-size="10.6">a)</text>
<text x="227.6" y="52.7" font-family="'Liberation Sans', sans-serif" font-size="10.6">b)</text>
</svg>
</body></html>
